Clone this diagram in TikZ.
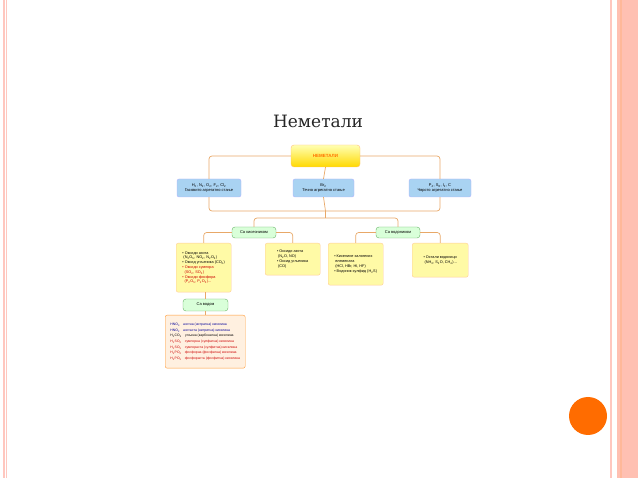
\documentclass[tikz,border=0pt]{standalone}
\usepackage{fontspec}
\setmainfont{Liberation Sans}
\newfontfamily\titlefont{DejaVu Serif}
\definecolor{skyb}{HTML}{A9D3F2}
\definecolor{connc}{HTML}{E8A868}
\begin{document}
\begin{tikzpicture}[x=1pt,y=-1pt,
 conn/.style={draw=connc, line width=0.7pt, rounded corners=3pt},
 ybox/.style={draw=orange!40, fill=yellow!35, rounded corners=2pt, anchor=north west, align=left, inner sep=2pt, font=\fontsize{3.8}{4.8}\selectfont},
 bbox/.style={draw=blue!30, fill=skyb, rounded corners=2pt, align=center, font=\fontsize{4}{4.8}\selectfont, minimum height=18pt},
 gbox/.style={draw=green!50!black!60, fill=green!15, rounded corners=3pt, font=\fontsize{4}{4.6}\selectfont, minimum width=44pt, minimum height=11pt, inner sep=1pt}]
\useasboundingbox (0,0) rectangle (638,478);
% decorative stripes
\fill[orange!25!red!25] (3,0) rectangle (4.5,478);
\fill[orange!25!red!25] (5.5,0) rectangle (6.5,478);
\fill[orange!25!red!25] (610,0) rectangle (612,478);
\fill[orange!35!red!30] (617,0) rectangle (638,478);
\fill[orange!60!red!40] (620,0) rectangle (622,478);
\fill[orange!85!red] (588,416) circle (19);
% title
\node[font=\titlefont\fontsize{17}{20}\selectfont, text=black!85] (title) at (318,121) {Неметали};
% nodes
\node[draw=orange!50, top color=yellow!30, bottom color=yellow!70!orange, rounded corners=3pt, minimum width=69pt, minimum height=22pt, font=\bfseries\fontsize{4.5}{5}\selectfont, text=orange!90!red] (nm) at (325.5,156) {НЕМЕТАЛИ};
\node[bbox, minimum width=64pt] (b1) at (209,188) {H\textsubscript{2}, N\textsubscript{2}, O\textsubscript{2}, F\textsubscript{2}, Cl\textsubscript{2}\\Гасовито агрегатно стање};
\node[bbox, minimum width=61pt] (b2) at (323.5,188) {Br\textsubscript{2}\\Течно агрегатно стање};
\node[bbox, minimum width=62pt] (b3) at (440,188) {P\textsubscript{4}, S\textsubscript{8}, I\textsubscript{2}, C\\Чврсто агрегатно стање};
\node[gbox] (g1) at (254,232.5) {Са кисеоником};
\node[gbox] (g2) at (398,232.5) {Са водоником};
\node[ybox, minimum width=55pt, minimum height=49pt] (y1) at (176,243) {• Оксиди азота\\ \ (N\textsubscript{2}O\textsubscript{5}, NO\textsubscript{2}, N\textsubscript{2}O\textsubscript{3})\\• Оксид угљеника (CO\textsubscript{2})\\\textcolor{red!80!black}{• Оксиди сумпора}\\\textcolor{red!80!black}{\ \ (SO\textsubscript{2}, SO\textsubscript{3})}\\\textcolor{red!80!black}{• Оксиди фосфора}\\\textcolor{red!80!black}{\ \ (P\textsubscript{2}O\textsubscript{5}, P\textsubscript{2}O\textsubscript{3})...}};
\node[ybox, minimum width=55pt, minimum height=32pt] (y2) at (265,243) {• Оксиди азота\\ \ (N\textsubscript{2}O, NO)\\• Оксид угљеника\\ \ (CO)};
\node[ybox, minimum width=55pt, minimum height=42pt] (y3) at (328,243) {• Киселине халогених\\ \ елемената\\ \ (HCl, HBr, HI, HF)\\• Водоник-сулфид (H\textsubscript{2}S)};
\node[ybox, minimum width=56pt, minimum height=34pt] (y4) at (412,243) {• Остали водоници\\ \ (NH\textsubscript{3}, S\textsubscript{2}O, CH\textsubscript{4})...};
\node[gbox, minimum width=45pt, minimum height=12pt] (g3) at (205.5,305) {Са водом};
\node[ybox, draw=orange!80, fill=orange!12, minimum width=80pt, minimum height=53pt, font=\fontsize{3.4}{5.6}\selectfont] (p) at (165,315) {\textcolor{blue!60!black}{HNO\textsubscript{3}\quad азотна (нитратна) киселина}\\\textcolor{blue!60!black}{HNO\textsubscript{2}\quad азотаста (нитритна) киселина}\\H\textsubscript{2}CO\textsubscript{3}\quad угљена (карбонатна) киселина\\\textcolor{red!80!black}{H\textsubscript{2}SO\textsubscript{4}\quad сумпорна (сулфатна) киселина}\\\textcolor{red!80!black}{H\textsubscript{2}SO\textsubscript{3}\quad сумпораста (сулфитна) киселина}\\\textcolor{red!80!black}{H\textsubscript{3}PO\textsubscript{4}\quad фосфорна (фосфатна) киселина}\\\textcolor{red!80!black}{H\textsubscript{3}PO\textsubscript{3}\quad фосфораста (фосфитна) киселина}};
% connectors
\draw[conn] (nm.west) -- (b1.north |- nm.west) -- (b1.north);
\draw[conn] (nm.east) -- (b3.north |- nm.east) -- (b3.north);
\draw[conn] (nm.south) -- (b2.north);
\coordinate (mid) at (325.5,211);
\draw[conn] (b1.south) -- (b1.south |- mid) -- (b3.south |- mid) -- (b3.south);
\draw[conn] (b2.south) -- (mid);
\coordinate (mid2) at (325.5,218);
\draw[conn] (mid) -- (mid2);
\draw[conn] (g1.north) -- (g1.north |- mid2) -- (g2.north |- mid2) -- (g2.north);
\draw[conn] (g1.west) -- (y1.north |- g1.west) -- (y1.north);
\draw[conn] (g1.east) -- (y2.north |- g1.east) -- (y2.north);
\draw[conn] (g2.west) -- (y3.north |- g2.west) -- (y3.north);
\draw[conn] (g2.east) -- (y4.north |- g2.east) -- (y4.north);
\draw[conn] (y1.south -| g3.north) -- (g3.north);
\draw[conn] (g3.south) -- (p.north -| g3.south);
\end{tikzpicture}
\end{document}
